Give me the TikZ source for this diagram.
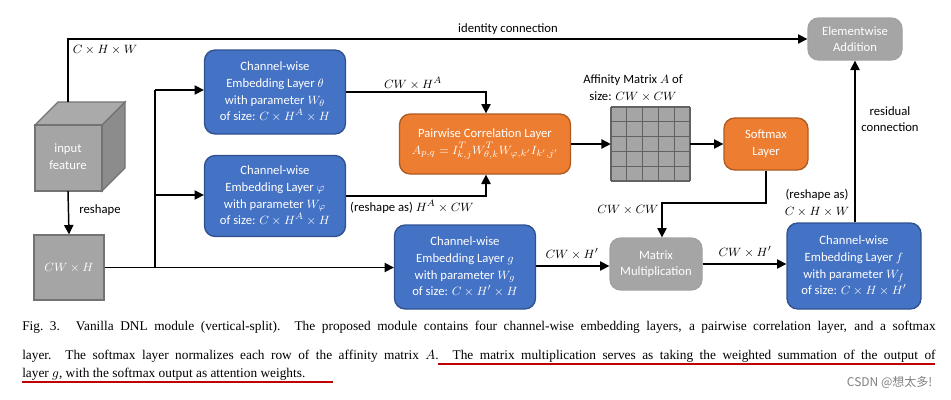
\documentclass[tikz,border=0pt]{standalone}
\usepackage{fontspec}
\setmainfont{Carlito}
\newfontfamily\capfont{Liberation Serif}
\newfontfamily\cjk{Noto Sans CJK SC}
\usetikzlibrary{arrows.meta}
\definecolor{bl}{HTML}{4472C4}
\definecolor{blb}{HTML}{2F528F}
\definecolor{orb}{HTML}{ED7D31}
\definecolor{orbd}{HTML}{AE5A21}
\definecolor{gr}{HTML}{A5A5A5}
\definecolor{grd}{HTML}{8C8C8C}
\begin{document}
\begin{tikzpicture}[x=0.75pt,y=-0.75pt,
  every node/.style={font=\fontsize{9.5}{12.5}\selectfont},
  box/.style={rounded corners=8pt,line width=1pt,text=white,align=center,inner sep=0pt},
  bbox/.style={box,fill=bl,draw=blb},
  obox/.style={box,fill=orb,draw=orbd},
  gbox/.style={box,fill=gr,draw=grd!80},
  arr/.style={line width=1.1pt,-{Triangle[length=7pt,width=7pt]}},
  ln/.style={line width=1.1pt},
  lab/.style={align=center,inner sep=1pt},
  captxt/.style={anchor=west,inner sep=0pt,font=\capfont\fontsize{10}{12}\selectfont}]
\useasboundingbox (0,0) rectangle (951,400);
\fill[white] (0,0) rectangle (951,400);
% cube
\filldraw[fill=gr!85!black,draw=gr!70!black,line width=1pt] (102,125)--(125,102)--(125,168)--(102,191)--cycle;
\filldraw[fill=gr!95!white,draw=gr!70!black,line width=1pt] (35,125)--(58,102)--(125,102)--(102,125)--cycle;
\filldraw[fill=gr,draw=gr!70!black,line width=1pt] (35,125) rectangle (102,191);
\node[text=white,align=center] (inp) at (68,157) {input\\feature};
\coordinate (cubetop) at (68,102);
\coordinate (cubebot) at (68,191);
\node[fill=gr,draw=gr!70!black,line width=1pt,minimum width=70*0.75pt,minimum height=65*0.75pt,text=white] (cwh) at (69,267.5) {$CW\times H$};
\node[gbox,minimum width=94*0.75pt,minimum height=42*0.75pt] (ele) at (855,39) {Elementwise\\Addition};
\node[bbox,minimum width=141*0.75pt,minimum height=84*0.75pt] (th) at (275,92) {Channel-wise\\Embedding Layer $\theta$\\with parameter $W_\theta$\\of size: $C\times H^A\times H$};
\node[bbox,minimum width=141*0.75pt,minimum height=81*0.75pt] (ph) at (275,196) {Channel-wise\\Embedding Layer $\varphi$\\with parameter $W_\varphi$\\of size: $C\times H^A\times H$};
\node[bbox,minimum width=141*0.75pt,minimum height=84*0.75pt] (g) at (465,267) {Channel-wise\\Embedding Layer $g$\\with parameter $W_g$\\of size: $C\times H'\times H$};
\node[obox,minimum width=171*0.75pt,minimum height=60*0.75pt] (pw) at (485,144) {Pairwise Correlation Layer\\$A_{p,q}=I^T_{k,j}W^T_{\theta,k}W_{\varphi,k'}I_{k',j'}$};
\node[obox,minimum width=84*0.75pt,minimum height=52*0.75pt] (sm) at (766,144) {Softmax\\Layer};
\node[gbox,minimum width=92*0.75pt,minimum height=52*0.75pt] (mm) at (656,264) {Matrix\\Multiplication};
\node[bbox,minimum width=134*0.75pt,minimum height=86*0.75pt] (f) at (854,266) {Channel-wise\\Embedding Layer $f$\\with parameter $W_f$\\of size: $C\times H\times H'$};
% grid
\node[minimum width=79*0.75pt,minimum height=74*0.75pt,inner sep=0pt] (aff) at (650.5,144) {};
\fill[gr] (611,107) rectangle (690,181);
\foreach \i in {0,...,5}{
 \draw[grd!70!black,line width=0.9pt] ({611+\i*15.8},107)--({611+\i*15.8},181);
 \draw[grd!70!black,line width=0.9pt] (611,{107+\i*14.8})--(690,{107+\i*14.8});}
\node[lab] at (633,88) {Affinity Matrix $A$ of\\size: $CW\times CW$};
% connectors
\draw[arr] (cubetop)--(68,39)--(ele.west);
\node[lab] at (508,29) {identity connection};
\node[lab] at (105,50) {$C\times H\times W$};
\draw[arr] (cubebot)--(cwh.north);
\node[lab] at (100,210) {reshape};
\coordinate (br) at (155,268);
\draw[arr] (cwh.east)--(g.west|-cwh.east);
\draw[ln] (br)--(155,90);
\draw[arr] (155,90)--(th.west|-155,90);
\draw[arr] (155,195)--(ph.west|-155,195);
\draw[arr] (th.east|-275,92)--(486,92)--(pw.north-|486,0);
\node[lab] at (413,83) {$CW\times H^A$};
\draw[arr] (ph.east|-275,196)--(486,196)--(pw.south-|486,0);
\node[lab] at (412,207) {(reshape as) $H^A\times CW$};
\draw[arr] (pw.east)--(aff.west);
\draw[arr] (aff.east)--(sm.west);
\draw[arr] (sm.south)--(766,203)--(662,203)--(mm.north-|662,0);
\node[lab] at (628,210) {$CW\times CW$};
\draw[arr] (g.east|-0,266)--(mm.west|-0,266);
\node[lab] at (572,254) {$CW\times H'$};
\draw[arr] (mm.east|-0,264)--(f.west|-0,264);
\node[lab] at (745,252) {$CW\times H'$};
\draw[arr] (f.north-|855,0)--(ele.south);
\node[lab] at (890,119) {residual\\connection};
\node[lab] at (817,203) {(reshape as)\\$C\times H\times W$};
% caption
\node[captxt] (c1) at (22,327) {\hbox to 685pt{Fig.~3.\hspace{1.2em}Vanilla DNL module (vertical-split). The proposed module contains four channel-wise embedding layers, a pairwise correlation layer, and a softmax}};
\node[captxt] (c2) at (22,356) {\hbox to 685pt{layer. The softmax layer normalizes each row of the affinity matrix $A$. The matrix multiplication serves as taking the weighted summation of the output of}};
\node[captxt] (c3) at (22,374) {layer $g$, with the softmax output as attention weights.};
\draw[red!75!black,line width=0.9pt] (438,364)--(935,364);
\draw[red!75!black,line width=0.9pt] (22,382)--(333,382);
\node[text=gray,font=\cjk\fontsize{9}{11}\selectfont,anchor=east] (wm) at (937,382) {CSDN @想太多!};
\end{tikzpicture}
\end{document}
